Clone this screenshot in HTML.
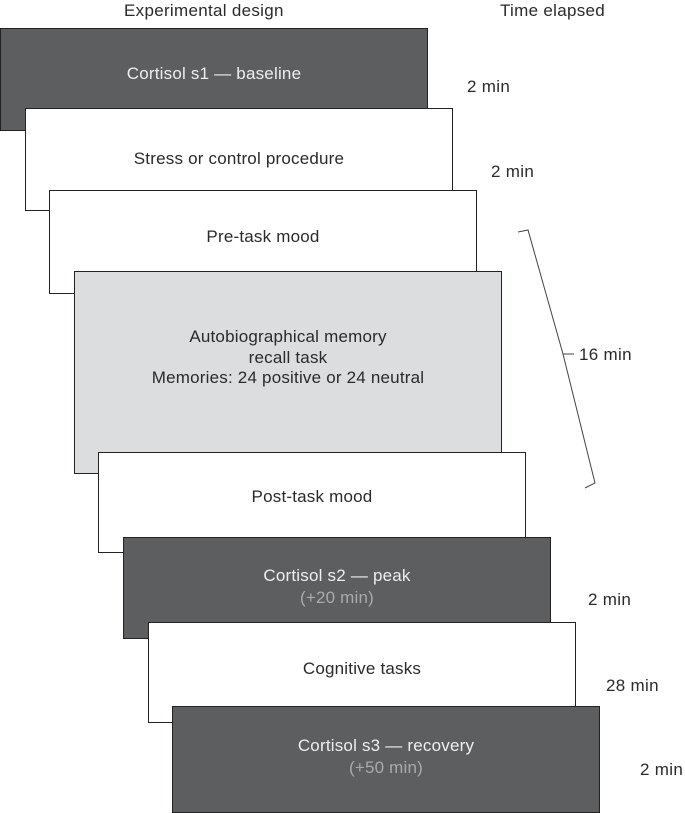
<!DOCTYPE html>
<html><head><style>
body{margin:0;width:685px;height:809px;background:#fff;position:relative;overflow:hidden;font-family:"Liberation Sans",sans-serif;color:#2a2a2a}
.b{position:absolute;width:426px;border:1.5px solid #222;box-sizing:content-box;font-size:17px;letter-spacing:0.2px;text-align:center}
.d{background:#5d5e60;color:#eee}
.w{background:#fff}
.g{background:#dcdddf}
.t{position:absolute;font-size:17px;letter-spacing:0.3px;white-space:nowrap}
.s{color:#aaa}
</style></head><body>
<div class="t" style="left:124px;top:1px">Experimental design</div>
<div class="t" style="left:500px;top:1px">Time elapsed</div>

<div class="b d" style="left:0;top:28px;height:101px"><div style="position:absolute;left:0;right:0;top:35px">Cortisol s1 — baseline</div></div>
<div class="b w" style="left:25px;top:108px;height:101px"><div style="position:absolute;left:0;right:0;top:40px">Stress or control procedure</div></div>
<div class="b w" style="left:49px;top:190px;height:102px"><div style="position:absolute;left:0;right:0;top:36px">Pre-task mood</div></div>
<div class="b g" style="left:74px;top:271px;height:201px"><div style="position:absolute;left:0;right:0;top:55px;line-height:20.5px">Autobiographical memory<br>recall task<br>Memories: 24 positive or 24 neutral</div></div>
<div class="b w" style="left:98px;top:452px;height:99px"><div style="position:absolute;left:0;right:0;top:34px">Post-task mood</div></div>
<div class="b d" style="left:123px;top:537px;height:100px"><div style="position:absolute;left:0;right:0;top:27px;line-height:22px">Cortisol s2 — peak<br><span class="s">(+20 min)</span></div></div>
<div class="b w" style="left:148px;top:622px;height:99px"><div style="position:absolute;left:0;right:0;top:36px">Cognitive tasks</div></div>
<div class="b d" style="left:172px;top:706px;height:105px"><div style="position:absolute;left:0;right:0;top:28px;line-height:22px">Cortisol s3 — recovery<br><span class="s">(+50 min)</span></div></div>

<div class="t" style="left:467px;top:77px">2 min</div>
<div class="t" style="left:491px;top:162px">2 min</div>
<div class="t" style="left:579px;top:345px">16 min</div>
<div class="t" style="left:588px;top:590px">2 min</div>
<div class="t" style="left:606px;top:676px">28 min</div>
<div class="t" style="left:640px;top:760px">2 min</div>

<svg style="position:absolute;left:0;top:0" width="685" height="809">
<path d="M518 232 L528 230 L563 354 L574 354 M563 354 L595 483 L585 488" fill="none" stroke="#444" stroke-width="1"/>
</svg>
</body></html>
